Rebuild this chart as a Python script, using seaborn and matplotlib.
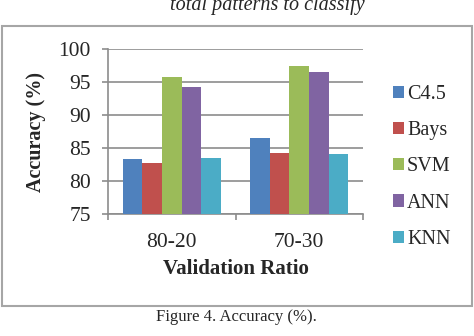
import matplotlib
matplotlib.use("Agg")
import matplotlib.pyplot as plt
import seaborn as sns
import pandas as pd
from matplotlib.patches import Rectangle

ratios = ["80-20", "70-30"]
methods = ["C4.5", "Bays", "SVM", "ANN", "KNN"]
c45 = [83.4, 86.5]
bays = [82.8, 84.3]
svm = [95.7, 97.5]
ann = [94.2, 96.5]
knn = [83.5, 84.1]
colors = ["#4F81BD", "#C0504D", "#9BBB59", "#8064A2", "#4BACC6"]

rows = []
for m, vals in zip(methods, [c45, bays, svm, ann, knn]):
    for r, v in zip(ratios, vals):
        rows.append({"Ratio": r, "Method": m, "Accuracy": v})
df = pd.DataFrame(rows)

sns.set_style("white")
plt.rcParams["font.family"] = ["Liberation Serif", "DejaVu Serif"]

fig = plt.figure(figsize=(4.74, 3.36), dpi=100)
ax = fig.add_axes([108/474, 1-214/336, (363-108)/474, (214-49)/336])

sns.barplot(data=df, x="Ratio", y="Accuracy", hue="Method", order=ratios,
            hue_order=methods, palette=colors, width=0.77, gap=0,
            saturation=1, ax=ax, zorder=3, legend=True, linewidth=0)

ax.set_ylim(75, 100)
ax.set_xlim(-0.5, 1.5)
ax.set_yticks([75, 80, 85, 90, 95, 100])
ax.yaxis.grid(True, color="#8c8c8c", linewidth=1.2, zorder=0)
ax.set_axisbelow(True)
for s in ["top", "right"]:
    ax.spines[s].set_visible(False)
for s in ["left", "bottom"]:
    ax.spines[s].set_color("#8c8c8c")
    ax.spines[s].set_linewidth(1.2)

ax.tick_params(axis="y", which="major", length=4.5, width=1.2, color="#8c8c8c",
               pad=8, labelsize=15.5, left=True)
ax.set_xticks([-0.5, 0.5, 1.5], minor=True)
ax.tick_params(axis="x", which="minor", length=4.5, width=1.2, color="#8c8c8c", bottom=True)
ax.tick_params(axis="x", which="major", length=0, pad=14, labelsize=15.5)

ax.set_xlabel("Validation Ratio", fontsize=15, fontweight="bold", labelpad=5)
ax.set_ylabel("Accuracy (%)", fontsize=14.5, fontweight="bold", labelpad=9)

handles, labels = ax.get_legend_handles_labels()
ax.get_legend().remove()
fig.legend(handles, labels, loc="center left", bbox_to_anchor=(393/474, 0.503),
           frameon=False, fontsize=14.5, handlelength=0.55, handleheight=0.55,
           handletextpad=0.15, labelspacing=0.85, borderpad=0, borderaxespad=0)

fig.patches.append(Rectangle((2/474, 30/336), 470/474, 280/336, transform=fig.transFigure,
                             fill=False, edgecolor="#a6a6a6", linewidth=1.5))

fig.text(267/474, 1-10/336, "total patterns to classify", ha="center", va="baseline",
         fontsize=14.5, style="italic")
fig.text(236/474, 1-317/336, "Figure 4. Accuracy (%).", ha="center", va="center",
         fontsize=12)

fig.savefig("out.png", dpi=100)
